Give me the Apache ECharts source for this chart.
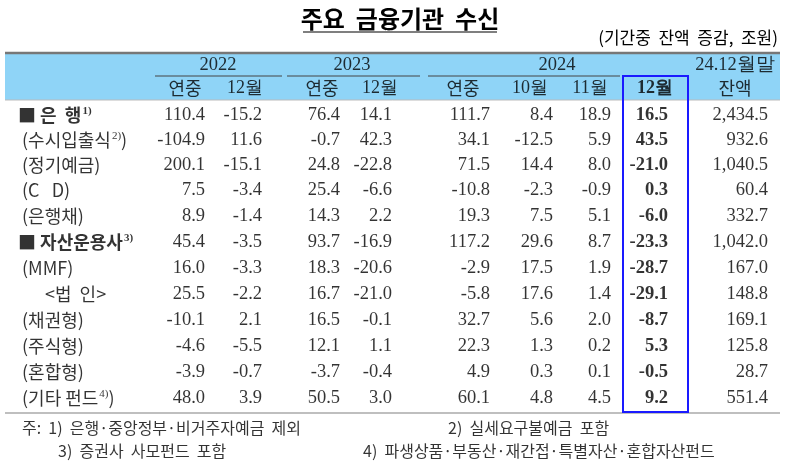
<!DOCTYPE html><html><head><meta charset="utf-8"><script src="https://cdn.jsdelivr.net/npm/echarts@6/dist/echarts.min.js"></script>
<style>body{margin:0}#c{width:800px;height:467px}</style></head><body><div id="c"></div><script>
const rowLabels=['■ 은  행{s|1)}','(수시입출식{s|2)})','(정기예금)','(C   D)','(은행채)','■ 자산운용사{s|3)}','(MMF)','<법  인>','(채권형)','(주식형)','(혼합형)','(기타 펀드{s|4)})'];
const years=['2022','2023','2024','24.12월말'];
const subHeads=['연중','12월','연중','12월','연중','10월','11월','12월','잔액'];
const values=[
['110.4','-15.2','76.4','14.1','111.7','8.4','18.9','16.5','2,434.5'],
['-104.9','11.6','-0.7','42.3','34.1','-12.5','5.9','43.5','932.6'],
['200.1','-15.1','24.8','-22.8','71.5','14.4','8.0','-21.0','1,040.5'],
['7.5','-3.4','25.4','-6.6','-10.8','-2.3','-0.9','0.3','60.4'],
['8.9','-1.4','14.3','2.2','19.3','7.5','5.1','-6.0','332.7'],
['45.4','-3.5','93.7','-16.9','117.2','29.6','8.7','-23.3','1,042.0'],
['16.0','-3.3','18.3','-20.6','-2.9','17.5','1.9','-28.7','167.0'],
['25.5','-2.2','16.7','-21.0','-5.8','17.6','1.4','-29.1','148.8'],
['-10.1','2.1','16.5','-0.1','32.7','5.6','2.0','-8.7','169.1'],
['-4.6','-5.5','12.1','1.1','22.3','1.3','0.2','5.3','125.8'],
['-3.9','-0.7','-3.7','-0.4','4.9','0.3','0.1','-0.5','28.7'],
['48.0','3.9','50.5','3.0','60.1','4.8','4.5','9.2','551.4']];
const notes=['주:  1)  은행·중앙정부·비거주자예금  제외','2)  실세요구불예금  포함','3)  증권사  사모펀드  포함','4)  파생상품·부동산·재간접·특별자산·혼합자산펀드'];
// layout
const rowY=[115,140,165,190,216,242,268,294,320,346,372,398];
const rowX=[18,22,22,22,22,18,22,45,22,22,22,22];
const colRight=[205,262,340,392,490,553,611,668,768];
const subX=[185,245,322,380,463,530,590,655,735];
const yearX=[218,352,557,735];
const KF='"Noto Sans CJK KR", sans-serif', NF='"Liberation Serif", serif';
const data=[];
rowLabels.forEach((l,i)=>data.push({value:[rowX[i],rowY[i]],label:{formatter:l,align:'left',fontFamily:KF,fontSize:18,fontWeight:i===0||i===5?'bold':'normal'}}));
values.forEach((r,i)=>r.forEach((v,j)=>data.push({value:[colRight[j],rowY[i]],label:{formatter:v,align:'right',fontFamily:NF,fontSize:18.5,fontWeight:j===7?'bold':'normal'}})));
years.forEach((y,i)=>data.push({value:[yearX[i],65],label:{formatter:y,align:'center',fontFamily:NF,fontSize:18.5}}));
subHeads.forEach((s,i)=>data.push({value:[subX[i],88],label:{formatter:s,align:'center',fontSize:18,fontFamily:i===1||i===3||i>=5&&i<8?NF:KF,fontWeight:i===7?'bold':'normal'}}));
[[22,428],[448,428],[58,451],[363,451]].forEach((p,i)=>data.push({value:p,label:{formatter:notes[i],align:'left',fontFamily:KF,fontSize:16}}));
const ch=echarts.init(document.getElementById('c'));
const line=(x1,y1,x2,y2,c,w)=>({type:'line',shape:{x1,y1,x2,y2},style:{stroke:c,lineWidth:w},z:1});
ch.setOption({
 title:{text:'주요  금융기관  수신',left:'center',top:2,textStyle:{fontFamily:KF,fontSize:24,fontWeight:'bold',color:'#000'}},
 graphic:[
  {type:'rect',shape:{x:5,y:53,width:775,height:47},style:{fill:'#8fd4f7'},z:0},
  line(5,53,780,53,'#777',2.5),line(5,100,780,100,'#bbb',1),line(5,413,780,413,'#aaa',1.5),
  line(155,76,282,76,'#444',1),line(287,76,420,76,'#444',1),line(428,76,620,76,'#444',1),
  line(303,32,497,32,'#000',1.2),
  {type:'text',right:22,top:29,style:{text:'(기간중  잔액  증감,  조원)',font:'17px '+KF,fill:'#000'}},
  {type:'rect',shape:{x:623,y:76,width:65,height:336},style:{fill:'none',stroke:'#1a1aff',lineWidth:2},z:5}
 ],
 grid:{left:0,top:0,width:800,height:467},
 xAxis:{type:'value',min:0,max:800,show:false},
 yAxis:{type:'value',min:0,max:467,inverse:true,show:false},
 series:[{type:'scatter',symbolSize:0,data,z:3,label:{show:true,position:'inside',verticalAlign:'middle',color:'#000',fontSize:17,
  rich:{s:{fontSize:11,verticalAlign:'top',padding:[0,0,8,1],fontFamily:NF}}}}]
});
</script></body></html>
